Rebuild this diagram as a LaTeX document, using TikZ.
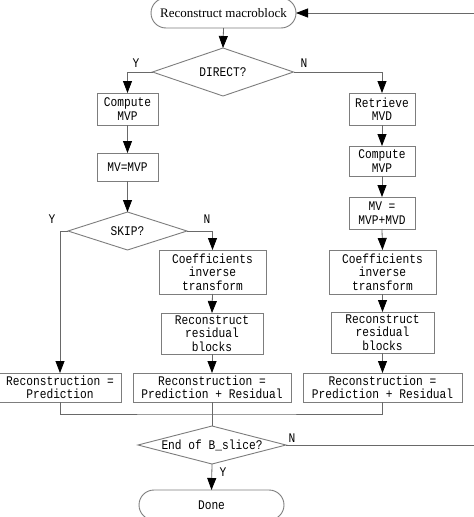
\documentclass[tikz,border=0pt]{standalone}
\usepackage{fontspec}
\setmainfont{Liberation Serif}
\newfontfamily\monofam[FakeStretch=0.85]{Liberation Mono}
\usetikzlibrary{arrows.meta,shapes.geometric,shapes.misc}
\definecolor{boxc}{RGB}{125,125,125}
\definecolor{linec}{RGB}{105,105,105}
\begin{document}
\begin{tikzpicture}[x=1pt,y=-1pt,
  every node/.style={inner sep=0pt,outer sep=0pt},
  mtext/.style={font=\monofam\fontsize{13.2}{13.3}\selectfont},
  pbox/.style={draw=boxc,line width=0.9pt,rectangle,align=center,mtext},
  term/.style={draw=boxc,line width=0.9pt,rounded rectangle,rounded rectangle arc length=180,align=center},
  dia/.style={draw=boxc,line width=0.9pt,diamond,align=center,mtext},
  conn/.style={draw=linec,line width=0.8pt},
  arr/.style={conn,-{Triangle[length=12pt,width=9pt,black]}},
  lbl/.style={mtext}]
\useasboundingbox (0,0) rectangle (474,517);
\fill[white] (0,0) rectangle (474,517);
% nodes
\node[term,minimum width=145pt,minimum height=30pt,font=\fontsize{13}{15}\selectfont] (start) at (223.5,13) {Reconstruct macroblock};
\node[dia,aspect=2.9,minimum width=141pt,minimum height=48pt] (dir) at (223,72) {DIRECT?};
\node[pbox,minimum width=61pt,minimum height=32pt] (cmvp) at (127.5,109) {Compute\\MVP};
\node[pbox,minimum width=61pt,minimum height=28pt] (mvmvp) at (127.5,167) {MV=MVP};
\node[pbox,minimum width=66pt,minimum height=32pt] (rmvd) at (382,109) {Retrieve\\MVD};
\node[pbox,minimum width=66pt,minimum height=30pt] (cmvp2) at (382,161) {Compute\\MVP};
\node[pbox,minimum width=66pt,minimum height=32pt] (mvsum) at (382,213) {MV =\\MVP+MVD};
\node[dia,aspect=3.1,minimum width=119pt,minimum height=38pt] (skip) at (127.5,231) {SKIP?};
\node[pbox,minimum width=107pt,minimum height=44pt] (coef1) at (212.5,272) {Coefficients\\inverse\\transform};
\node[pbox,minimum width=102pt,minimum height=41pt] (rrb1) at (212,333.5) {Reconstruct\\residual\\blocks};
\node[pbox,minimum width=107pt,minimum height=44pt] (coef2) at (382.5,272) {Coefficients\\inverse\\transform};
\node[pbox,minimum width=103pt,minimum height=41pt] (rrb2) at (382.5,332.5) {Reconstruct\\residual\\blocks};
\node[pbox,minimum width=122pt,minimum height=29pt] (recpred) at (60,387.5) {Reconstruction =\\Prediction};
\node[pbox,minimum width=158pt,minimum height=29pt] (rec1) at (212,387.5) {Reconstruction =\\Prediction + Residual};
\node[pbox,minimum width=159pt,minimum height=29pt] (rec2) at (382.5,387.5) {Reconstruction =\\Prediction + Residual};
\node[dia,aspect=3.9,minimum width=148pt,minimum height=38pt] (endd) at (212,445) {End of B\_slice?};
\node[term,mtext,minimum width=145pt,minimum height=30pt] (done) at (211.5,505) {Done};
% labels
\node[lbl] (ly1) at (136,63) {Y};
\node[lbl] (ln1) at (304,63) {N};
\node[lbl] (ly2) at (52,219) {Y};
\node[lbl] (ln2) at (207,219) {N};
\node[lbl] (ln3) at (292,438) {N};
\node[lbl] (ly3) at (223,472) {Y};
% coordinates
\coordinate (m) at (212,414);
\coordinate (rt) at (480,445);
% connectors
\draw[arr] (start.south) -- (dir.north);
\draw[arr] (dir.west) -| (cmvp.north);
\draw[arr] (dir.east) -| (rmvd.north);
\draw[arr] (cmvp.south) -- (mvmvp.north);
\draw[arr] (mvmvp.south) -- (skip.north);
\draw[arr] (rmvd.south) -- (cmvp2.north);
\draw[arr] (cmvp2.south) -- (mvsum.north);
\draw[arr] (mvsum.south) -- (coef2.north);
\draw[arr] (coef2.south) -- (rrb2.north);
\draw[arr] (rrb2.south) -- (rec2.north);
\draw[arr] (skip.west) -| (recpred.north);
\draw[arr] (skip.east) -| (coef1.north);
\draw[arr] (coef1.south) -- (rrb1.north);
\draw[arr] (rrb1.south) -- (rec1.north);
\draw[conn] (recpred.south) |- (m) -| (rec2.south);
\draw[conn] (rec1.south) -- (endd.north);
\draw[arr] (endd.south) -- (done.north);
\draw[arr] (endd.east) -- (rt) |- (start.east);
\end{tikzpicture}
\end{document}
